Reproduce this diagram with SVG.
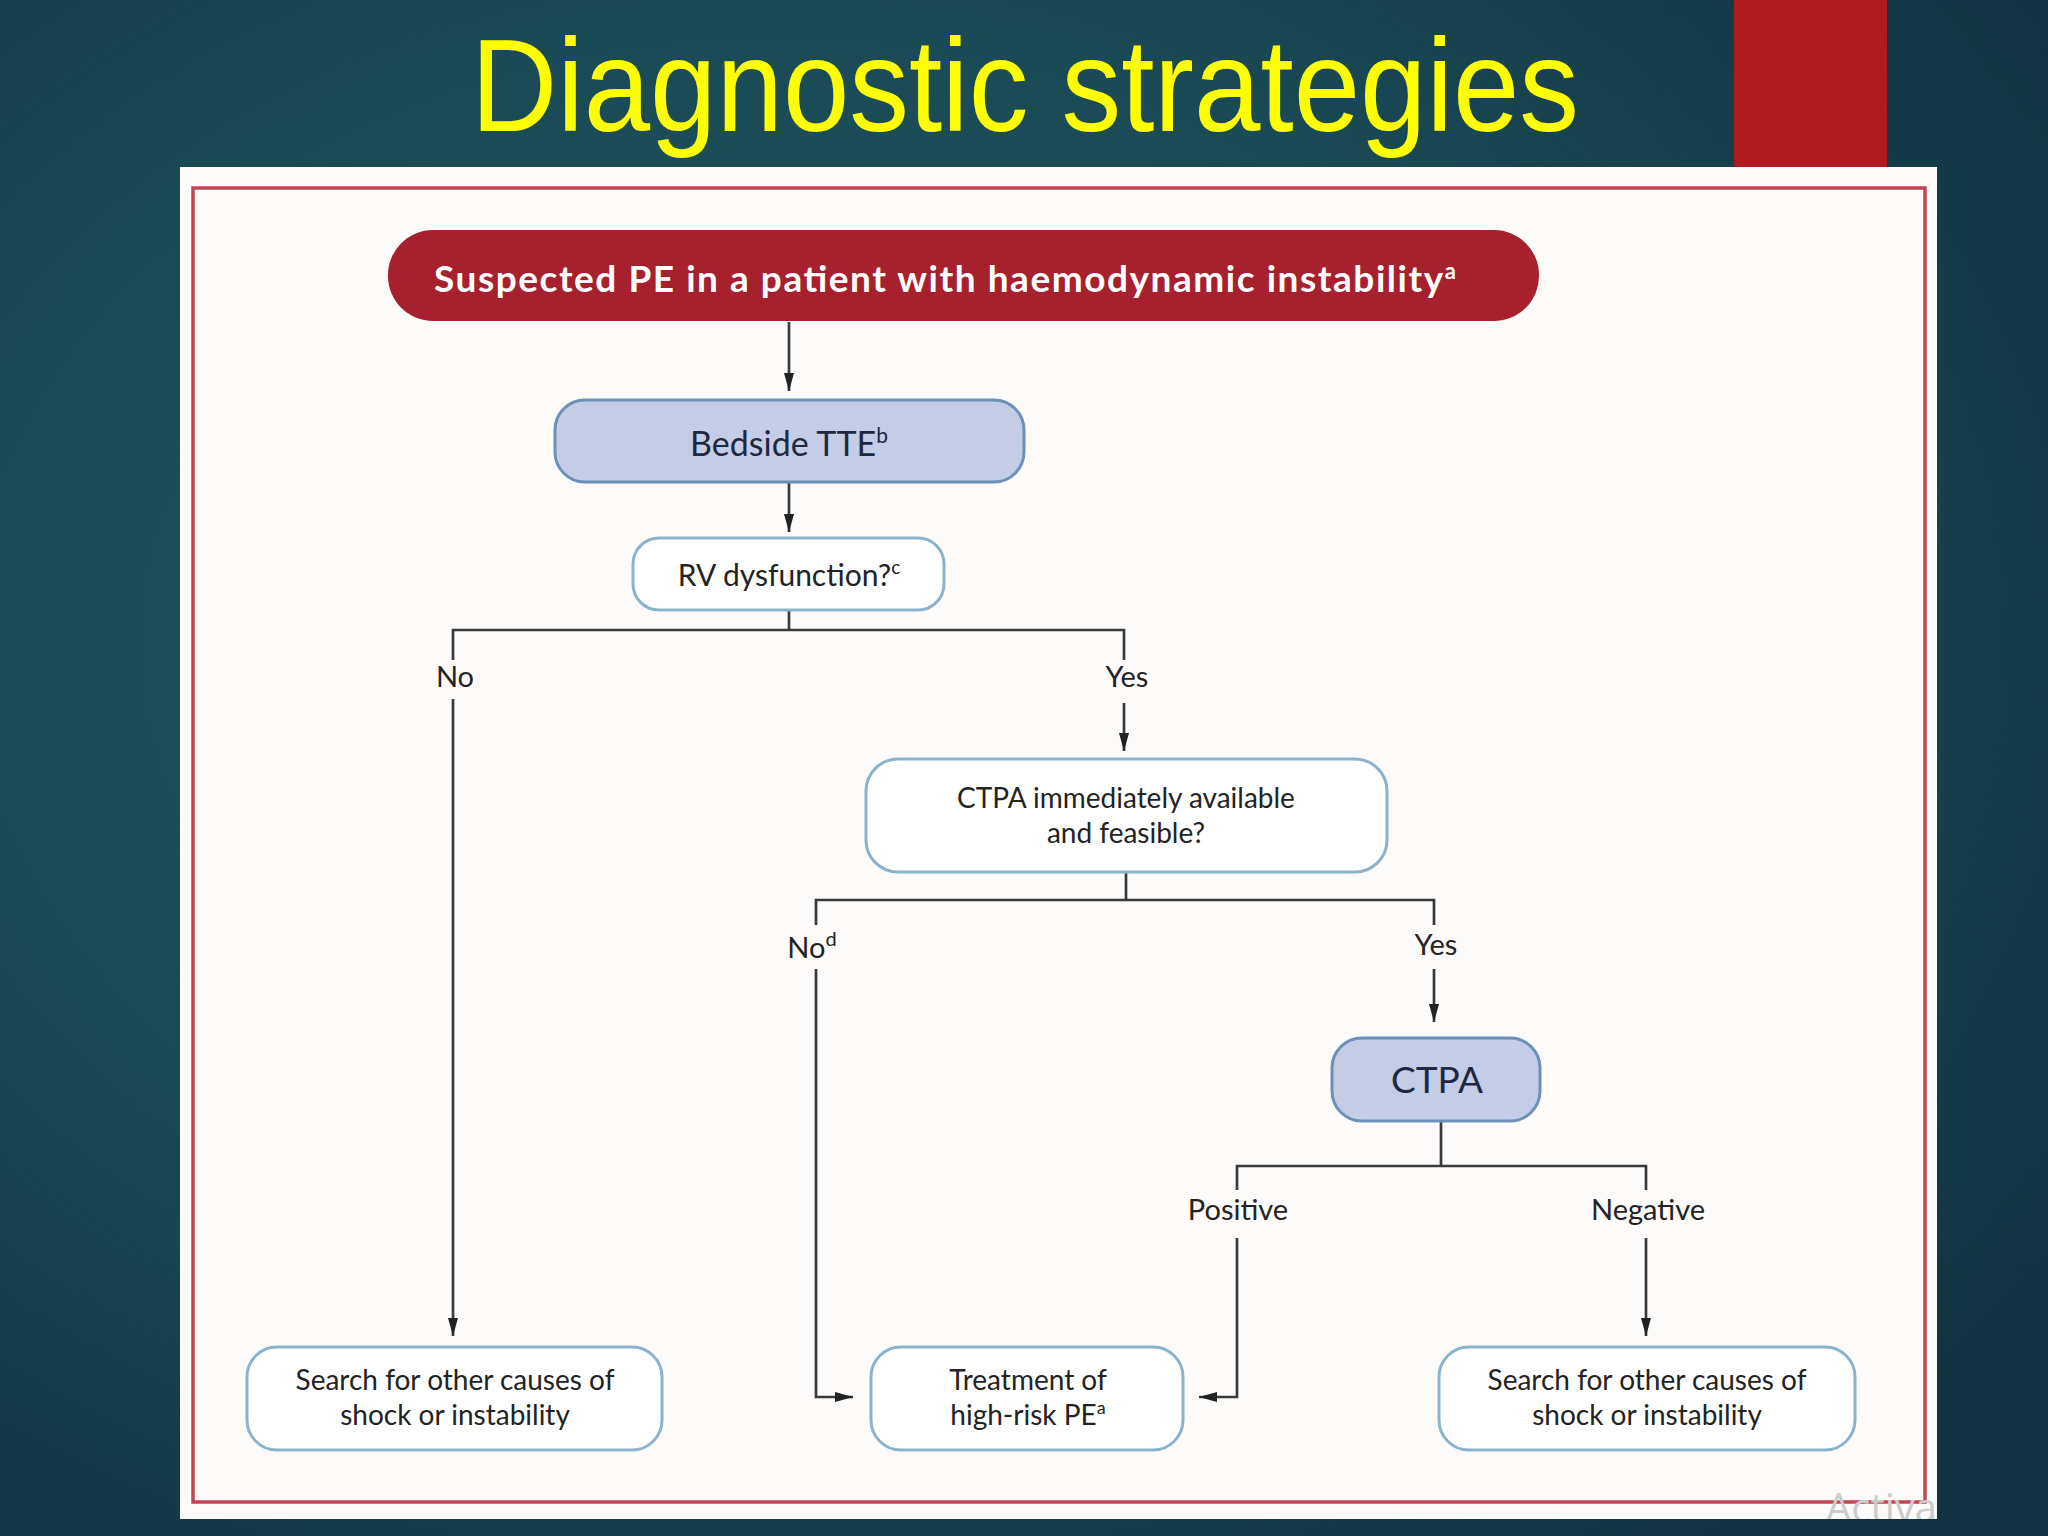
<svg xmlns="http://www.w3.org/2000/svg" width="2048" height="1536" viewBox="0 0 2048 1536">
<defs>
<radialGradient id="bg" cx="0.38" cy="0.42" r="0.75">
<stop offset="0" stop-color="#22585f"/>
<stop offset="0.55" stop-color="#1a4a55"/>
<stop offset="1" stop-color="#113240"/>
</radialGradient>
<clipPath id="panelClip"><rect x="180" y="167" width="1757" height="1352"/></clipPath>
<marker id="ah" viewBox="0 0 18 10" refX="18" refY="5" markerWidth="18" markerHeight="10" markerUnits="userSpaceOnUse" orient="auto">
<path d="M0,0 L18,5 L0,10 z" fill="#222"/>
</marker>
<style>
.conn{fill:none;stroke:#3a3a3a;stroke-width:2.7}
.arr{marker-end:url(#ah)}
.t{font-family:Lato,"Open Sans","Liberation Sans",sans-serif;fill:#232323;text-anchor:middle}
.lbl{font-size:29px}
.wbox{fill:#ffffff;stroke:#8db3cc;stroke-width:3}
.bbox{fill:#c4cce6;stroke:#6f90b6;stroke-width:3}
</style>
</defs>
<rect x="0" y="0" width="2048" height="1536" fill="url(#bg)"/>
<rect x="1734" y="0" width="153" height="167" fill="#ae1a1d"/>
<text x="1025" y="131" font-family="'Liberation Sans',Arial,sans-serif" font-size="132" fill="#ffff00" text-anchor="middle" textLength="1108" lengthAdjust="spacingAndGlyphs">Diagnostic strategies</text>

<rect x="180" y="167" width="1757" height="1352" fill="#fdfafa"/>
<rect x="193" y="188" width="1732" height="1314" fill="none" stroke="#c44456" stroke-width="3.5"/>
<text x="1826" y="1522" clip-path="url(#panelClip)" font-family="'Open Sans',sans-serif" font-size="40" fill="#cccccc">Activa</text>

<g id="connectors">
<line class="conn arr" x1="789" y1="322" x2="789" y2="391"/>
<line class="conn arr" x1="789" y1="482" x2="789" y2="532"/>
<polyline class="conn" points="453,660 453,630 1124,630 1124,660"/>
<line class="conn" x1="789" y1="610" x2="789" y2="630"/>
<line class="conn arr" x1="453" y1="699" x2="453" y2="1336"/>
<line class="conn arr" x1="1124" y1="703" x2="1124" y2="751"/>
<line class="conn" x1="1126" y1="872" x2="1126" y2="900"/>
<polyline class="conn" points="816,925 816,900 1434,900 1434,925"/>
<polyline class="conn arr" points="816,969 816,1397 853,1397"/>
<line class="conn arr" x1="1434" y1="969" x2="1434" y2="1022"/>
<line class="conn" x1="1441" y1="1121" x2="1441" y2="1166"/>
<polyline class="conn" points="1237,1190 1237,1166 1646,1166 1646,1190"/>
<polyline class="conn arr" points="1237,1238 1237,1397 1199,1397"/>
<line class="conn arr" x1="1646" y1="1238" x2="1646" y2="1336"/>
<text class="t lbl" x="455" y="687">No</text>
<text class="t lbl" x="1127" y="687">Yes</text>
<text class="t lbl" x="812" y="958">No<tspan font-size="20" dy="-12">d</tspan></text>
<text class="t lbl" x="1436" y="955">Yes</text>
<text class="t lbl" x="1238" y="1220">Positive</text>
<text class="t lbl" x="1648" y="1220">Negative</text>
</g>

<g id="n-suspected">
<rect x="388" y="230" width="1151" height="91" rx="45" fill="#a6212d"/>
<text class="t" x="945" y="292" font-size="37" font-weight="bold" style="fill:#ffffff" textLength="1022">Suspected PE in a patient with haemodynamic instability<tspan font-size="22" dy="-13">a</tspan></text>
</g>
<g id="n-tte">
<rect class="bbox" x="555" y="400" width="469" height="82" rx="30"/>
<text class="t" x="789" y="456" font-size="34" style="fill:#1f2840">Bedside TTE<tspan font-size="21" dy="-13">b</tspan></text>
</g>
<g id="n-rv">
<rect class="wbox" x="633" y="538" width="311" height="72" rx="26"/>
<text class="t" x="789" y="586" font-size="30">RV dysfunction?<tspan font-size="19" dy="-12">c</tspan></text>
</g>
<g id="n-ctpa-avail">
<rect class="wbox" x="866" y="759" width="521" height="113" rx="32"/>
<text class="t" x="1126" y="808" font-size="28">CTPA immediately available</text>
<text class="t" x="1126" y="843" font-size="28">and feasible?</text>
</g>
<g id="n-ctpa">
<rect class="bbox" x="1332" y="1038" width="208" height="83" rx="30"/>
<text class="t" x="1437" y="1093" font-size="37" style="fill:#1f2840">CTPA</text>
</g>
<g id="n-search-left">
<rect class="wbox" x="247" y="1347" width="415" height="103" rx="30"/>
<text class="t" x="455" y="1390" font-size="28">Search for other causes of</text>
<text class="t" x="455" y="1425" font-size="28">shock or instability</text>
</g>
<g id="n-treatment">
<rect class="wbox" x="871" y="1347" width="312" height="103" rx="30"/>
<text class="t" x="1028" y="1390" font-size="28">Treatment of</text>
<text class="t" x="1028" y="1425" font-size="28">high-risk PE<tspan font-size="18" dy="-11">a</tspan></text>
</g>
<g id="n-search-right">
<rect class="wbox" x="1439" y="1347" width="416" height="103" rx="30"/>
<text class="t" x="1647" y="1390" font-size="28">Search for other causes of</text>
<text class="t" x="1647" y="1425" font-size="28">shock or instability</text>
</g>
</svg>
